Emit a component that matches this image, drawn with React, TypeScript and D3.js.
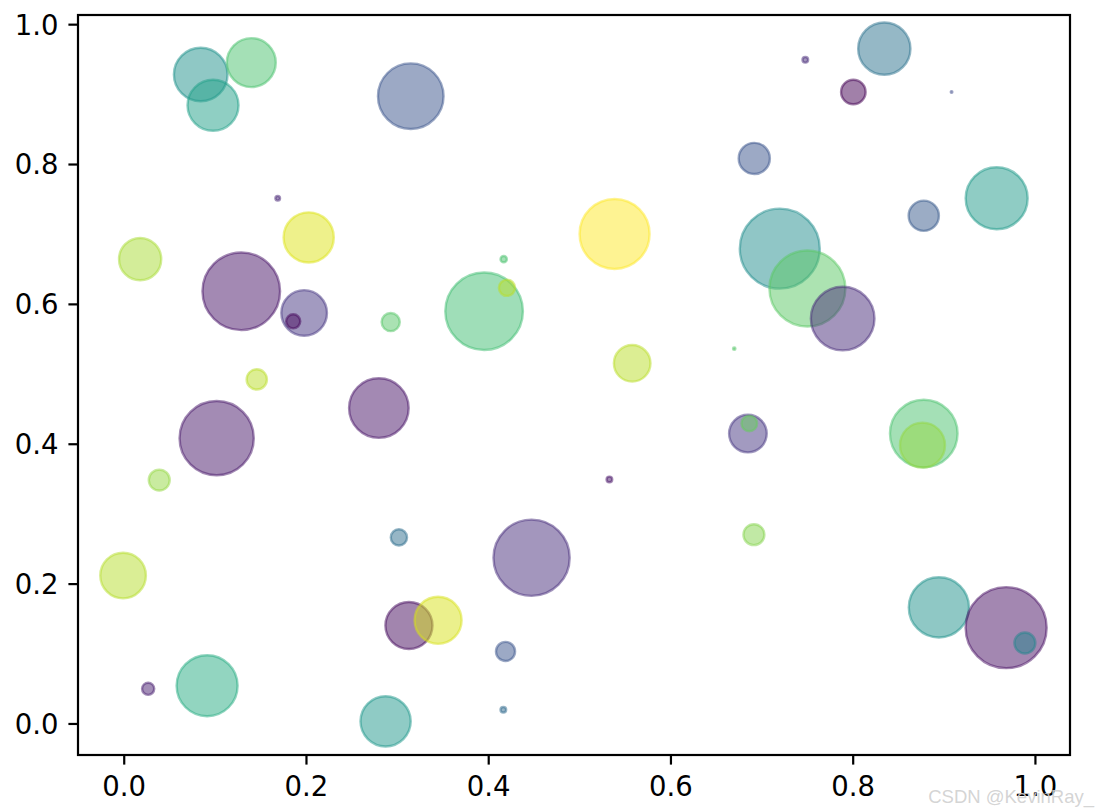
import { useEffect, useRef } from "react";
import * as d3 from "d3";

// Point data (x, y, colour value, marker area in pt^2)
const xValues = [
  0.0845, 0.098, 0.14, 0.315, 0.169, 0.203, 0.018, 0.129, 0.198, 0.186,
  0.293, 0.3955, 0.146, 0.102, 0.28, 0.039, -0.0007, 0.302, 0.4476, 0.313,
  0.345, 0.419, 0.4166, 0.0268, 0.0915, 0.2874, 0.8347, 0.748, 0.8007, 0.9085,
  0.692, 0.878, 0.958, 0.5387, 0.72, 0.7503, 0.789, 0.417, 0.4206, 0.67,
  0.558, 0.685, 0.6865, 0.533, 0.6916, 0.878, 0.8766, 0.8946, 0.9684, 0.989,
];

const yValues = [
  0.928, 0.884, 0.945, 0.897, 0.751, 0.695, 0.664, 0.618, 0.587, 0.575,
  0.574, 0.5895, 0.492, 0.408, 0.451, 0.348, 0.2115, 0.266, 0.237, 0.14,
  0.1475, 0.103, 0.0196, 0.0496, 0.054, 0.003, 0.965, 0.949, 0.903, 0.903,
  0.808, 0.726, 0.751, 0.7, 0.679, 0.622, 0.579, 0.664, 0.623, 0.536,
  0.515, 0.4145, 0.429, 0.349, 0.27, 0.4145, 0.398, 0.166, 0.137, 0.115,
];

const colorValues = [
  0.5, 0.55, 0.7, 0.25, 0.1, 0.93, 0.85, 0.05, 0.15, 0.02,
  0.72, 0.68, 0.88, 0.06, 0.05, 0.82, 0.87, 0.35, 0.13, 0.03,
  0.92, 0.25, 0.33, 0.08, 0.6, 0.52, 0.37, 0.12, 0.0, 0.22,
  0.25, 0.27, 0.53, 0.98, 0.48, 0.73, 0.12, 0.7, 0.88, 0.72,
  0.88, 0.15, 0.75, 0.05, 0.8, 0.7, 0.82, 0.5, 0.04, 0.45,
];

const areaValues = [
  415, 377, 349, 611, 6.5, 366, 263, 846, 305, 36,
  56, 846, 68, 776, 508, 72, 305, 46, 817, 323,
  323, 61, 8.5, 28, 531, 366, 395, 8.5, 96, 2,
  149, 141, 548, 693, 897, 812, 576, 10, 46, 3,
  201, 212, 43, 8.5, 72, 648, 297, 518, 920, 72,
];

const tickValues = [0, 0.2, 0.4, 0.6, 0.8, 1.0];

const WIDTH = 1099;
const HEIGHT = 812;
const PX_PER_PT = 2.75;

export default function App() {
  const ref = useRef<SVGSVGElement>(null);

  useEffect(() => {
    if (!ref.current) return;
    d3.select(ref.current).selectAll("*").remove();

    const marginLeft = 78;
    const marginRight = 29;
    const marginTop = 15;
    const marginBottom = 57;

    // matplotlib-style autoscale: 5% margin on the data extent
    const pad = (ext: [number, number]) => {
      const span = ext[1] - ext[0];
      return [ext[0] - span * 0.05, ext[1] + span * 0.05];
    };
    const xExt = d3.extent(xValues) as [number, number];
    const yExt = d3.extent(yValues) as [number, number];

    const x = d3
      .scaleLinear()
      .domain(pad(xExt))
      .range([marginLeft, WIDTH - marginRight]);

    const y = d3
      .scaleLinear()
      .domain(pad(yExt))
      .range([HEIGHT - marginBottom, marginTop]);

    const color = d3
      .scaleSequential(d3.interpolateViridis)
      .domain(d3.extent(colorValues) as [number, number]);

    // marker area (pt^2) -> radius in px
    const radius = (s: number) => (Math.sqrt(s) / 2) * PX_PER_PT;

    const svg = d3
      .select(ref.current)
      .attr("width", WIDTH)
      .attr("height", HEIGHT)
      .attr("viewBox", [0, 0, WIDTH, HEIGHT])
      .style("position", "absolute")
      .style("left", "0px")
      .style("top", "0px")
      .style("background", "white");

    const points = xValues.map((d, i) => ({
      x: d,
      y: yValues[i],
      c: colorValues[i],
      s: areaValues[i],
    }));

    // Draw the bubbles
    svg
      .append("g")
      .selectAll("circle")
      .data(points)
      .join("circle")
      .attr("cx", (d) => x(d.x))
      .attr("cy", (d) => y(d.y))
      .attr("r", (d) => Math.max(radius(d.s) - 1.2, 0.8))
      .attr("fill", (d) => color(d.c))
      .attr("fill-opacity", 0.5)
      .attr("stroke", (d) => color(d.c))
      .attr("stroke-opacity", 0.5)
      .attr("stroke-width", 2.4);

    const font = "'DejaVu Sans', sans-serif";

    // Axes
    svg
      .append("g")
      .attr("transform", `translate(0,${HEIGHT - marginBottom})`)
      .call(
        d3
          .axisBottom(x)
          .tickValues(tickValues)
          .tickFormat(d3.format(".1f"))
          .tickSize(9.6)
          .tickPadding(12)
      )
      .call((g) => g.select(".domain").remove())
      .call((g) => g.selectAll(".tick line").attr("stroke-width", 2.2))
      .call((g) =>
        g
          .selectAll(".tick text")
          .attr("font-family", font)
          .attr("font-size", 27.5)
          .attr("fill", "black")
      );

    svg
      .append("g")
      .attr("transform", `translate(${marginLeft},0)`)
      .call(
        d3
          .axisLeft(y)
          .tickValues(tickValues)
          .tickFormat(d3.format(".1f"))
          .tickSize(9.6)
          .tickPadding(10)
      )
      .call((g) => g.select(".domain").remove())
      .call((g) => g.selectAll(".tick line").attr("stroke-width", 2.2))
      .call((g) =>
        g
          .selectAll(".tick text")
          .attr("font-family", font)
          .attr("font-size", 27.5)
          .attr("fill", "black")
          .attr("dy", "0.36em")
      );

    // Spines
    svg
      .append("rect")
      .attr("x", marginLeft)
      .attr("y", marginTop)
      .attr("width", WIDTH - marginLeft - marginRight)
      .attr("height", HEIGHT - marginTop - marginBottom)
      .attr("fill", "none")
      .attr("stroke", "black")
      .attr("stroke-width", 2.2);

    // Watermark
    svg
      .append("text")
      .attr("x", WIDTH - 5)
      .attr("y", HEIGHT - 9)
      .attr("text-anchor", "end")
      .attr("font-family", "'Liberation Sans', Arial, sans-serif")
      .attr("font-size", 18.5)
      .attr("fill", "#cfcfcf")
      .attr("fill-opacity", 0.9)
      .text("CSDN @KevinRay_");
  }, []);

  return <svg ref={ref} />;
}
